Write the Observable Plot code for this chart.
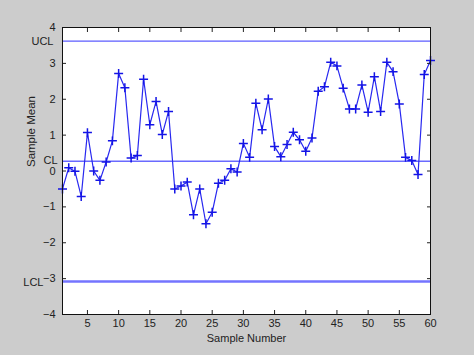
<!DOCTYPE html>
<html>
<head>
<meta charset="utf-8">
<script src="https://cdn.jsdelivr.net/npm/d3@7"></script>
<script src="https://cdn.jsdelivr.net/npm/@observablehq/plot@0.6"></script>
<style>
  html, body { margin: 0; padding: 0; background: #cccccc; }
  #chart svg { display: block; }
</style>
</head>
<body>
<div id="chart"></div>
<script>
const sampleMeans = [
  -0.50, 0.09, -0.01, -0.71, 1.07, 0.00, -0.26, 0.25, 0.84, 2.72,
  2.32, 0.36, 0.43, 2.56, 1.29, 1.94, 1.02, 1.66, -0.50, -0.42,
  -0.31, -1.22, -0.50, -1.47, -1.15, -0.34, -0.26, 0.06, -0.03, 0.77,
  0.38, 1.89, 1.15, 2.01, 0.68, 0.40, 0.74, 1.08, 0.87, 0.55,
  0.92, 2.22, 2.35, 3.03, 2.93, 2.31, 1.73, 1.73, 2.40, 1.64,
  2.63, 1.66, 3.03, 2.77, 1.87, 0.38, 0.29, -0.10, 2.69, 3.08
];
const UCL = 3.62;
const CL = 0.27;
const LCL = -3.08;
const xTicks = [5, 10, 15, 20, 25, 30, 35, 40, 45, 50, 55, 60];
const yTicks = [-4, -3, -2, -1, 0, 1, 2, 3, 4];
const yLabelCenter = 1.1;

const data = sampleMeans.map((v, i) => ({n: i + 1, mean: v}));

const font = "Liberation Sans, Arial, sans-serif";
const ink = "#222";
const chart = Plot.plot({
  width: 474,
  height: 355,
  marginLeft: 62,
  marginRight: 44,
  marginTop: 27,
  marginBottom: 41,
  style: {background: "#cccccc", fontFamily: font, fontSize: "11px", color: ink},
  x: {domain: [1, 60], ticks: xTicks},
  y: {domain: [-4, 4], ticks: yTicks},
  marks: [
    Plot.frame({fill: "white"}),
    Plot.ruleY([UCL], {stroke: "#5c5cff", strokeWidth: 1.2}),
    Plot.ruleY([CL], {stroke: "#6a6aff", strokeWidth: 1.4}),
    Plot.ruleY([LCL], {stroke: "#7474ff", strokeWidth: 2.6}),
    Plot.line(data, {x: "n", y: "mean", stroke: "#2828f0", strokeWidth: 1.2}),
    Plot.dot(data, {x: "n", y: "mean", symbol: "plus", r: 3, stroke: "#1414e6", strokeWidth: 1.5}),
    // inward tick marks on all four sides
    Plot.axisX({anchor: "bottom", ticks: xTicks, tickSize: 4, dy: -4, tickFormat: () => "", label: null, stroke: ink}),
    Plot.axisX({anchor: "top", ticks: xTicks, tickSize: 4, dy: 4, tickFormat: () => "", label: null, stroke: ink}),
    Plot.axisY({anchor: "left", ticks: yTicks, tickSize: 4, dx: 4, tickFormat: () => "", label: null, stroke: ink}),
    Plot.axisY({anchor: "right", ticks: yTicks, tickSize: 4, dx: -4, tickFormat: () => "", label: null, stroke: ink}),
    // tick labels
    Plot.axisX({anchor: "bottom", ticks: xTicks, tickSize: 0, tickPadding: 5, label: null, fontSize: 11, fill: ink}),
    Plot.axisY({anchor: "left", ticks: yTicks, tickSize: 0, tickPadding: 7, label: null, fontSize: 11, fill: ink}),
    Plot.text(["UCL"], {x: 1, y: UCL, text: d => d, textAnchor: "end", dx: -9, fontSize: 11, fill: ink}),
    Plot.text(["CL"], {x: 1, y: CL, text: d => d, textAnchor: "end", dx: -5, dy: -1, fontSize: 11, fill: ink}),
    Plot.text(["LCL"], {x: 1, y: LCL, text: d => d, textAnchor: "end", dx: -19, dy: 1, fontSize: 11, fill: ink}),
    Plot.text(["Sample Number"], {frameAnchor: "bottom", dy: 27, text: d => d, fontSize: 11, fill: ink}),
    Plot.text(["Sample Mean"], {x: 1, y: yLabelCenter, dx: -31, rotate: -90, text: d => d, fontSize: 11.5, fill: ink}),
    Plot.frame({stroke: "#111", strokeWidth: 1})
  ]
});
document.getElementById("chart").append(chart);
</script>
</body>
</html>
